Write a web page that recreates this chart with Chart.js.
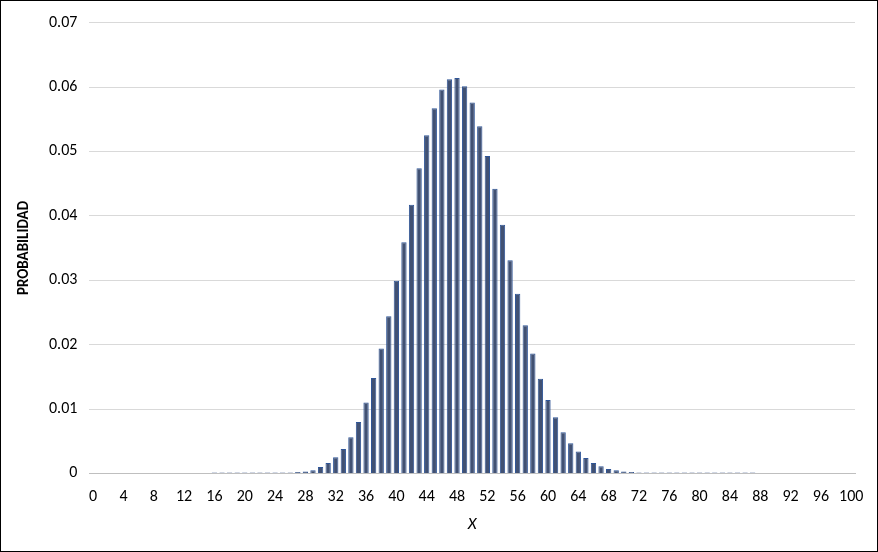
<!DOCTYPE html>
<html><head><meta charset="utf-8">
<script src="https://cdn.jsdelivr.net/npm/chart.js@4/dist/chart.umd.min.js"></script>
<style>
html,body{margin:0;padding:0;background:#fff;}
#box{position:absolute;left:0;top:0;width:876px;height:550px;border:1px solid #000;}
</style></head>
<body><div id="box"><canvas id="c" width="876" height="550"></canvas></div>
<script>
// x values 0..100
const xValues = [];
for (let i = 0; i <= 100; i++) xValues.push(i);

// probabilities (x = 0 .. 100)
const probs = [
  0,0,0,0,0,0,0,0,0,0,
  0,0,0,0,0,0,0.00015,0.00015,0.00015,0.00015,
  0.00015,0.00015,0.00015,0.00015,0.00015,0.00015,0.00015,0.0002,0.0003,0.0005,
  0.0010,0.0016,0.0025,0.0038,0.0056,0.0080,0.0110,0.0148,0.0194,0.0244,
  0.0299,0.0359,0.0417,0.0474,0.0525,0.0567,0.0596,0.0612,0.0614,0.0601,
  0.0576,0.0539,0.0493,0.0442,0.0386,0.0331,0.0279,0.0230,0.0186,0.0147,
  0.0114,0.0087,0.0064,0.0047,0.0034,0.0024,0.0016,0.0011,0.0007,0.0005,
  0.0003,0.0002,0.00015,0.00015,0.00015,0.00015,0.00015,0.00015,0.00015,0.00015,
  0.00015,0.00015,0.00015,0.00015,0.00015,0.00015,0.00015,0.00015,0,0,
  0,0,0,0,0,0,0,0,0,0,
  0
];

const font = { family: "Carlito, Calibri, 'Liberation Sans', sans-serif", size: 16 };

new Chart(document.getElementById("c"), {
  type: "bar",
  data: {
    labels: xValues,
    datasets: [{
      data: probs,
      backgroundColor: "#415173",
      borderColor: "#2F5597",
      borderWidth: 1,
      categoryPercentage: 0.7,
      barPercentage: 1.0
    }]
  },
  options: {
    responsive: false,
    animation: false,
    layout: { padding: { left: 10, right: 22, top: 6, bottom: 14 } },
    plugins: { legend: { display: false }, tooltip: { enabled: false } },
    scales: {
      x: {
        grid: { display: false },
        border: { color: "#bfbfbf" },
        ticks: {
          color: "#000", font: font, autoSkip: false, maxRotation: 0, padding: 6,
          callback: (v, i) => (i % 4 === 0 ? String(xValues[i]) : "")
        },
        title: { display: true, text: "X", color: "#000", padding: 2,
          font: { family: font.family, size: 17, style: "italic" } }
      },
      y: {
        min: 0, max: 0.07,
        grid: { color: "#d9d9d9", drawTicks: false },
        border: { display: false },
        ticks: { stepSize: 0.01, color: "#000", font: font, padding: 12,
          callback: v => (v === 0 ? "0" : v.toFixed(2)) },
        title: { display: true, text: "PROBABILIDAD", color: "#000",
          font: { family: font.family, size: 15, weight: "bold" } }
      }
    }
  }
});
</script>
</body></html>
